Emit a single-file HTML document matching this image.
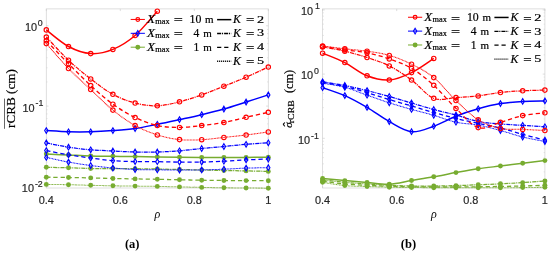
<!DOCTYPE html>
<html><head><meta charset="utf-8"><title>rCRB figure</title>
<style>html,body{margin:0;padding:0;background:#fff;width:550px;height:254px;overflow:hidden}svg{display:block}</style>
</head><body>
<svg width="550" height="254" viewBox="0 0 550 254">
<rect x="46.3" y="8.9" width="222" height="179.1" fill="none" stroke="#d6d6d6" stroke-width="0.8"/>
<rect x="322.6" y="8.9" width="222.3" height="179.1" fill="none" stroke="#d6d6d6" stroke-width="0.8"/>
<path d="M46.3 186.4h2.2M268.3 186.4h-2.2" stroke="#c8c8c8" stroke-width="0.6"/>
<path d="M46.3 106.1h2.2M268.3 106.1h-2.2" stroke="#c8c8c8" stroke-width="0.6"/>
<path d="M46.3 25.8h2.2M268.3 25.8h-2.2" stroke="#c8c8c8" stroke-width="0.6"/>
<path d="M46.3 162.23h1.2M268.3 162.23h-1.2" stroke="#d0d0d0" stroke-width="0.6"/>
<path d="M46.3 148.09h1.2M268.3 148.09h-1.2" stroke="#d0d0d0" stroke-width="0.6"/>
<path d="M46.3 138.05h1.2M268.3 138.05h-1.2" stroke="#d0d0d0" stroke-width="0.6"/>
<path d="M46.3 130.27h1.2M268.3 130.27h-1.2" stroke="#d0d0d0" stroke-width="0.6"/>
<path d="M46.3 123.91h1.2M268.3 123.91h-1.2" stroke="#d0d0d0" stroke-width="0.6"/>
<path d="M46.3 118.54h1.2M268.3 118.54h-1.2" stroke="#d0d0d0" stroke-width="0.6"/>
<path d="M46.3 113.88h1.2M268.3 113.88h-1.2" stroke="#d0d0d0" stroke-width="0.6"/>
<path d="M46.3 109.77h1.2M268.3 109.77h-1.2" stroke="#d0d0d0" stroke-width="0.6"/>
<path d="M46.3 81.93h1.2M268.3 81.93h-1.2" stroke="#d0d0d0" stroke-width="0.6"/>
<path d="M46.3 67.79h1.2M268.3 67.79h-1.2" stroke="#d0d0d0" stroke-width="0.6"/>
<path d="M46.3 57.75h1.2M268.3 57.75h-1.2" stroke="#d0d0d0" stroke-width="0.6"/>
<path d="M46.3 49.97h1.2M268.3 49.97h-1.2" stroke="#d0d0d0" stroke-width="0.6"/>
<path d="M46.3 43.61h1.2M268.3 43.61h-1.2" stroke="#d0d0d0" stroke-width="0.6"/>
<path d="M46.3 38.24h1.2M268.3 38.24h-1.2" stroke="#d0d0d0" stroke-width="0.6"/>
<path d="M46.3 33.58h1.2M268.3 33.58h-1.2" stroke="#d0d0d0" stroke-width="0.6"/>
<path d="M46.3 29.47h1.2M268.3 29.47h-1.2" stroke="#d0d0d0" stroke-width="0.6"/>
<path d="M46.3 188v-2.2M46.3 8.9v2.2" stroke="#c8c8c8" stroke-width="0.6"/>
<path d="M120.3 188v-2.2M120.3 8.9v2.2" stroke="#c8c8c8" stroke-width="0.6"/>
<path d="M194.3 188v-2.2M194.3 8.9v2.2" stroke="#c8c8c8" stroke-width="0.6"/>
<path d="M268.3 188v-2.2M268.3 8.9v2.2" stroke="#c8c8c8" stroke-width="0.6"/>
<path d="M322.6 138.3h2.2M544.9 138.3h-2.2" stroke="#c8c8c8" stroke-width="0.6"/>
<path d="M322.6 74.1h2.2M544.9 74.1h-2.2" stroke="#c8c8c8" stroke-width="0.6"/>
<path d="M322.6 9.9h2.2M544.9 9.9h-2.2" stroke="#c8c8c8" stroke-width="0.6"/>
<path d="M322.6 183.17h1.2M544.9 183.17h-1.2" stroke="#d0d0d0" stroke-width="0.6"/>
<path d="M322.6 171.87h1.2M544.9 171.87h-1.2" stroke="#d0d0d0" stroke-width="0.6"/>
<path d="M322.6 163.85h1.2M544.9 163.85h-1.2" stroke="#d0d0d0" stroke-width="0.6"/>
<path d="M322.6 157.63h1.2M544.9 157.63h-1.2" stroke="#d0d0d0" stroke-width="0.6"/>
<path d="M322.6 152.54h1.2M544.9 152.54h-1.2" stroke="#d0d0d0" stroke-width="0.6"/>
<path d="M322.6 148.24h1.2M544.9 148.24h-1.2" stroke="#d0d0d0" stroke-width="0.6"/>
<path d="M322.6 144.52h1.2M544.9 144.52h-1.2" stroke="#d0d0d0" stroke-width="0.6"/>
<path d="M322.6 141.24h1.2M544.9 141.24h-1.2" stroke="#d0d0d0" stroke-width="0.6"/>
<path d="M322.6 118.97h1.2M544.9 118.97h-1.2" stroke="#d0d0d0" stroke-width="0.6"/>
<path d="M322.6 107.67h1.2M544.9 107.67h-1.2" stroke="#d0d0d0" stroke-width="0.6"/>
<path d="M322.6 99.65h1.2M544.9 99.65h-1.2" stroke="#d0d0d0" stroke-width="0.6"/>
<path d="M322.6 93.43h1.2M544.9 93.43h-1.2" stroke="#d0d0d0" stroke-width="0.6"/>
<path d="M322.6 88.34h1.2M544.9 88.34h-1.2" stroke="#d0d0d0" stroke-width="0.6"/>
<path d="M322.6 84.04h1.2M544.9 84.04h-1.2" stroke="#d0d0d0" stroke-width="0.6"/>
<path d="M322.6 80.32h1.2M544.9 80.32h-1.2" stroke="#d0d0d0" stroke-width="0.6"/>
<path d="M322.6 77.04h1.2M544.9 77.04h-1.2" stroke="#d0d0d0" stroke-width="0.6"/>
<path d="M322.6 54.77h1.2M544.9 54.77h-1.2" stroke="#d0d0d0" stroke-width="0.6"/>
<path d="M322.6 43.47h1.2M544.9 43.47h-1.2" stroke="#d0d0d0" stroke-width="0.6"/>
<path d="M322.6 35.45h1.2M544.9 35.45h-1.2" stroke="#d0d0d0" stroke-width="0.6"/>
<path d="M322.6 29.23h1.2M544.9 29.23h-1.2" stroke="#d0d0d0" stroke-width="0.6"/>
<path d="M322.6 24.14h1.2M544.9 24.14h-1.2" stroke="#d0d0d0" stroke-width="0.6"/>
<path d="M322.6 19.84h1.2M544.9 19.84h-1.2" stroke="#d0d0d0" stroke-width="0.6"/>
<path d="M322.6 16.12h1.2M544.9 16.12h-1.2" stroke="#d0d0d0" stroke-width="0.6"/>
<path d="M322.6 12.84h1.2M544.9 12.84h-1.2" stroke="#d0d0d0" stroke-width="0.6"/>
<path d="M322.6 188v-2.2M322.6 8.9v2.2" stroke="#c8c8c8" stroke-width="0.6"/>
<path d="M396.7 188v-2.2M396.7 8.9v2.2" stroke="#c8c8c8" stroke-width="0.6"/>
<path d="M470.8 188v-2.2M470.8 8.9v2.2" stroke="#c8c8c8" stroke-width="0.6"/>
<path d="M544.9 188v-2.2M544.9 8.9v2.2" stroke="#c8c8c8" stroke-width="0.6"/>
<g>
<path d="M46.3 154C50 154.17 61.1 154.67 68.5 155C75.9 155.33 83.3 155.78 90.7 156C98.1 156.22 105.5 156.2 112.9 156.3C120.3 156.4 127.7 156.48 135.1 156.6C142.5 156.72 149.9 156.88 157.3 157C164.7 157.12 172.1 157.23 179.5 157.3C186.9 157.37 194.3 157.38 201.7 157.4C209.1 157.42 216.5 157.4 223.9 157.4C231.3 157.4 238.7 157.42 246.1 157.4C253.5 157.38 264.6 157.32 268.3 157.3" fill="none" stroke="#77ac30" stroke-width="1.5"/>
<circle cx="46.3" cy="154" r="2.45" fill="#77ac30"/>
<circle cx="68.5" cy="155" r="2.45" fill="#77ac30"/>
<circle cx="90.7" cy="156" r="2.45" fill="#77ac30"/>
<circle cx="112.9" cy="156.3" r="2.45" fill="#77ac30"/>
<circle cx="135.1" cy="156.6" r="2.45" fill="#77ac30"/>
<circle cx="157.3" cy="157" r="2.45" fill="#77ac30"/>
<circle cx="179.5" cy="157.3" r="2.45" fill="#77ac30"/>
<circle cx="201.7" cy="157.4" r="2.45" fill="#77ac30"/>
<circle cx="223.9" cy="157.4" r="2.45" fill="#77ac30"/>
<circle cx="246.1" cy="157.4" r="2.45" fill="#77ac30"/>
<circle cx="268.3" cy="157.3" r="2.45" fill="#77ac30"/>
<path d="M46.3 167.3C50 167.38 61.1 167.6 68.5 167.8C75.9 168 83.3 168.37 90.7 168.5C98.1 168.63 105.5 168.57 112.9 168.6C120.3 168.63 127.7 168.63 135.1 168.7C142.5 168.77 149.9 168.87 157.3 169C164.7 169.13 172.1 169.33 179.5 169.5C186.9 169.67 194.3 169.83 201.7 170C209.1 170.17 216.5 170.35 223.9 170.5C231.3 170.65 238.7 170.75 246.1 170.9C253.5 171.05 264.6 171.32 268.3 171.4" fill="none" stroke="#77ac30" stroke-width="1.25" stroke-dasharray="4.1 0.8 1.1 1.0"/>
<circle cx="46.3" cy="167.3" r="2.45" fill="#77ac30"/>
<circle cx="68.5" cy="167.8" r="2.45" fill="#77ac30"/>
<circle cx="90.7" cy="168.5" r="2.45" fill="#77ac30"/>
<circle cx="112.9" cy="168.6" r="2.45" fill="#77ac30"/>
<circle cx="135.1" cy="168.7" r="2.45" fill="#77ac30"/>
<circle cx="157.3" cy="169" r="2.45" fill="#77ac30"/>
<circle cx="179.5" cy="169.5" r="2.45" fill="#77ac30"/>
<circle cx="201.7" cy="170" r="2.45" fill="#77ac30"/>
<circle cx="223.9" cy="170.5" r="2.45" fill="#77ac30"/>
<circle cx="246.1" cy="170.9" r="2.45" fill="#77ac30"/>
<circle cx="268.3" cy="171.4" r="2.45" fill="#77ac30"/>
<path d="M46.3 177.2C50 177.25 61.1 177.38 68.5 177.5C75.9 177.62 83.3 177.73 90.7 177.9C98.1 178.07 105.5 178.33 112.9 178.5C120.3 178.67 127.7 178.77 135.1 178.9C142.5 179.03 149.9 179.15 157.3 179.3C164.7 179.45 172.1 179.65 179.5 179.8C186.9 179.95 194.3 180.08 201.7 180.2C209.1 180.32 216.5 180.43 223.9 180.5C231.3 180.57 238.7 180.57 246.1 180.6C253.5 180.63 264.6 180.68 268.3 180.7" fill="none" stroke="#77ac30" stroke-width="1.3" stroke-dasharray="4.2 2.9"/>
<circle cx="46.3" cy="177.2" r="2.45" fill="#77ac30"/>
<circle cx="68.5" cy="177.5" r="2.45" fill="#77ac30"/>
<circle cx="90.7" cy="177.9" r="2.45" fill="#77ac30"/>
<circle cx="112.9" cy="178.5" r="2.45" fill="#77ac30"/>
<circle cx="135.1" cy="178.9" r="2.45" fill="#77ac30"/>
<circle cx="157.3" cy="179.3" r="2.45" fill="#77ac30"/>
<circle cx="179.5" cy="179.8" r="2.45" fill="#77ac30"/>
<circle cx="201.7" cy="180.2" r="2.45" fill="#77ac30"/>
<circle cx="223.9" cy="180.5" r="2.45" fill="#77ac30"/>
<circle cx="246.1" cy="180.6" r="2.45" fill="#77ac30"/>
<circle cx="268.3" cy="180.7" r="2.45" fill="#77ac30"/>
<path d="M46.3 184.4C50 184.45 61.1 184.55 68.5 184.7C75.9 184.85 83.3 185.12 90.7 185.3C98.1 185.48 105.5 185.67 112.9 185.8C120.3 185.93 127.7 186 135.1 186.1C142.5 186.2 149.9 186.27 157.3 186.4C164.7 186.53 172.1 186.73 179.5 186.9C186.9 187.07 194.3 187.25 201.7 187.4C209.1 187.55 216.5 187.7 223.9 187.8C231.3 187.9 238.7 187.93 246.1 188C253.5 188.07 264.6 188.17 268.3 188.2" fill="none" stroke="#77ac30" stroke-width="1.05" stroke-dasharray="0.9 0.6"/>
<circle cx="46.3" cy="184.4" r="2.45" fill="#77ac30"/>
<circle cx="68.5" cy="184.7" r="2.45" fill="#77ac30"/>
<circle cx="90.7" cy="185.3" r="2.45" fill="#77ac30"/>
<circle cx="112.9" cy="185.8" r="2.45" fill="#77ac30"/>
<circle cx="135.1" cy="186.1" r="2.45" fill="#77ac30"/>
<circle cx="157.3" cy="186.4" r="2.45" fill="#77ac30"/>
<circle cx="179.5" cy="186.9" r="2.45" fill="#77ac30"/>
<circle cx="201.7" cy="187.4" r="2.45" fill="#77ac30"/>
<circle cx="223.9" cy="187.8" r="2.45" fill="#77ac30"/>
<circle cx="246.1" cy="188" r="2.45" fill="#77ac30"/>
<circle cx="268.3" cy="188.2" r="2.45" fill="#77ac30"/>
<path d="M46.3 130.6C50 130.8 61.1 131.6 68.5 131.8C75.9 132 83.3 132 90.7 131.8C98.1 131.6 105.5 131.15 112.9 130.6C120.3 130.05 127.7 129.55 135.1 128.5C142.5 127.45 149.9 125.78 157.3 124.3C164.7 122.82 172.1 121.2 179.5 119.6C186.9 118 194.3 116.47 201.7 114.7C209.1 112.93 216.5 111.12 223.9 109C231.3 106.88 238.7 104.35 246.1 102C253.5 99.65 264.6 96.08 268.3 94.9" fill="none" stroke="#0000ff" stroke-width="1.5"/>
<path d="M46.3 127.8l1.65 2.8l-1.65 2.8l-1.65 -2.8z" fill="none" stroke="#0000ff" stroke-width="1.1"/>
<path d="M68.5 129l1.65 2.8l-1.65 2.8l-1.65 -2.8z" fill="none" stroke="#0000ff" stroke-width="1.1"/>
<path d="M90.7 129l1.65 2.8l-1.65 2.8l-1.65 -2.8z" fill="none" stroke="#0000ff" stroke-width="1.1"/>
<path d="M112.9 127.8l1.65 2.8l-1.65 2.8l-1.65 -2.8z" fill="none" stroke="#0000ff" stroke-width="1.1"/>
<path d="M135.1 125.7l1.65 2.8l-1.65 2.8l-1.65 -2.8z" fill="none" stroke="#0000ff" stroke-width="1.1"/>
<path d="M157.3 121.5l1.65 2.8l-1.65 2.8l-1.65 -2.8z" fill="none" stroke="#0000ff" stroke-width="1.1"/>
<path d="M179.5 116.8l1.65 2.8l-1.65 2.8l-1.65 -2.8z" fill="none" stroke="#0000ff" stroke-width="1.1"/>
<path d="M201.7 111.9l1.65 2.8l-1.65 2.8l-1.65 -2.8z" fill="none" stroke="#0000ff" stroke-width="1.1"/>
<path d="M223.9 106.2l1.65 2.8l-1.65 2.8l-1.65 -2.8z" fill="none" stroke="#0000ff" stroke-width="1.1"/>
<path d="M246.1 99.2l1.65 2.8l-1.65 2.8l-1.65 -2.8z" fill="none" stroke="#0000ff" stroke-width="1.1"/>
<path d="M268.3 92.1l1.65 2.8l-1.65 2.8l-1.65 -2.8z" fill="none" stroke="#0000ff" stroke-width="1.1"/>
<path d="M46.3 142.9C50 143.62 61.1 146.05 68.5 147.2C75.9 148.35 83.3 149.17 90.7 149.8C98.1 150.43 105.5 150.63 112.9 151C120.3 151.37 127.7 151.83 135.1 152C142.5 152.17 149.9 152.2 157.3 152C164.7 151.8 172.1 151.38 179.5 150.8C186.9 150.22 194.3 149.22 201.7 148.5C209.1 147.78 216.5 147.2 223.9 146.5C231.3 145.8 238.7 144.92 246.1 144.3C253.5 143.68 264.6 143.05 268.3 142.8" fill="none" stroke="#0000ff" stroke-width="1.25" stroke-dasharray="4.1 0.8 1.1 1.0"/>
<path d="M46.3 140.1l1.65 2.8l-1.65 2.8l-1.65 -2.8z" fill="none" stroke="#0000ff" stroke-width="1.1"/>
<path d="M68.5 144.4l1.65 2.8l-1.65 2.8l-1.65 -2.8z" fill="none" stroke="#0000ff" stroke-width="1.1"/>
<path d="M90.7 147l1.65 2.8l-1.65 2.8l-1.65 -2.8z" fill="none" stroke="#0000ff" stroke-width="1.1"/>
<path d="M112.9 148.2l1.65 2.8l-1.65 2.8l-1.65 -2.8z" fill="none" stroke="#0000ff" stroke-width="1.1"/>
<path d="M135.1 149.2l1.65 2.8l-1.65 2.8l-1.65 -2.8z" fill="none" stroke="#0000ff" stroke-width="1.1"/>
<path d="M157.3 149.2l1.65 2.8l-1.65 2.8l-1.65 -2.8z" fill="none" stroke="#0000ff" stroke-width="1.1"/>
<path d="M179.5 148l1.65 2.8l-1.65 2.8l-1.65 -2.8z" fill="none" stroke="#0000ff" stroke-width="1.1"/>
<path d="M201.7 145.7l1.65 2.8l-1.65 2.8l-1.65 -2.8z" fill="none" stroke="#0000ff" stroke-width="1.1"/>
<path d="M223.9 143.7l1.65 2.8l-1.65 2.8l-1.65 -2.8z" fill="none" stroke="#0000ff" stroke-width="1.1"/>
<path d="M246.1 141.5l1.65 2.8l-1.65 2.8l-1.65 -2.8z" fill="none" stroke="#0000ff" stroke-width="1.1"/>
<path d="M268.3 140l1.65 2.8l-1.65 2.8l-1.65 -2.8z" fill="none" stroke="#0000ff" stroke-width="1.1"/>
<path d="M46.3 150.6C50 151.3 61.1 153.57 68.5 154.8C75.9 156.03 83.3 157.02 90.7 158C98.1 158.98 105.5 160.1 112.9 160.7C120.3 161.3 127.7 161.43 135.1 161.6C142.5 161.77 149.9 161.62 157.3 161.7C164.7 161.78 172.1 162.03 179.5 162.1C186.9 162.17 194.3 162.25 201.7 162.1C209.1 161.95 216.5 161.57 223.9 161.2C231.3 160.83 238.7 160.27 246.1 159.9C253.5 159.53 264.6 159.15 268.3 159" fill="none" stroke="#0000ff" stroke-width="1.3" stroke-dasharray="4.2 2.9"/>
<path d="M46.3 147.8l1.65 2.8l-1.65 2.8l-1.65 -2.8z" fill="none" stroke="#0000ff" stroke-width="1.1"/>
<path d="M68.5 152l1.65 2.8l-1.65 2.8l-1.65 -2.8z" fill="none" stroke="#0000ff" stroke-width="1.1"/>
<path d="M90.7 155.2l1.65 2.8l-1.65 2.8l-1.65 -2.8z" fill="none" stroke="#0000ff" stroke-width="1.1"/>
<path d="M112.9 157.9l1.65 2.8l-1.65 2.8l-1.65 -2.8z" fill="none" stroke="#0000ff" stroke-width="1.1"/>
<path d="M135.1 158.8l1.65 2.8l-1.65 2.8l-1.65 -2.8z" fill="none" stroke="#0000ff" stroke-width="1.1"/>
<path d="M157.3 158.9l1.65 2.8l-1.65 2.8l-1.65 -2.8z" fill="none" stroke="#0000ff" stroke-width="1.1"/>
<path d="M179.5 159.3l1.65 2.8l-1.65 2.8l-1.65 -2.8z" fill="none" stroke="#0000ff" stroke-width="1.1"/>
<path d="M201.7 159.3l1.65 2.8l-1.65 2.8l-1.65 -2.8z" fill="none" stroke="#0000ff" stroke-width="1.1"/>
<path d="M223.9 158.4l1.65 2.8l-1.65 2.8l-1.65 -2.8z" fill="none" stroke="#0000ff" stroke-width="1.1"/>
<path d="M246.1 157.1l1.65 2.8l-1.65 2.8l-1.65 -2.8z" fill="none" stroke="#0000ff" stroke-width="1.1"/>
<path d="M268.3 156.2l1.65 2.8l-1.65 2.8l-1.65 -2.8z" fill="none" stroke="#0000ff" stroke-width="1.1"/>
<path d="M46.3 157.4C50 158.18 61.1 160.75 68.5 162.1C75.9 163.45 83.3 164.52 90.7 165.5C98.1 166.48 105.5 167.33 112.9 168C120.3 168.67 127.7 169.2 135.1 169.5C142.5 169.8 149.9 169.72 157.3 169.8C164.7 169.88 172.1 169.98 179.5 170C186.9 170.02 194.3 170.03 201.7 169.9C209.1 169.77 216.5 169.5 223.9 169.2C231.3 168.9 238.7 168.35 246.1 168.1C253.5 167.85 264.6 167.77 268.3 167.7" fill="none" stroke="#0000ff" stroke-width="1.05" stroke-dasharray="0.9 0.6"/>
<path d="M46.3 154.6l1.65 2.8l-1.65 2.8l-1.65 -2.8z" fill="none" stroke="#0000ff" stroke-width="1.1"/>
<path d="M68.5 159.3l1.65 2.8l-1.65 2.8l-1.65 -2.8z" fill="none" stroke="#0000ff" stroke-width="1.1"/>
<path d="M90.7 162.7l1.65 2.8l-1.65 2.8l-1.65 -2.8z" fill="none" stroke="#0000ff" stroke-width="1.1"/>
<path d="M112.9 165.2l1.65 2.8l-1.65 2.8l-1.65 -2.8z" fill="none" stroke="#0000ff" stroke-width="1.1"/>
<path d="M135.1 166.7l1.65 2.8l-1.65 2.8l-1.65 -2.8z" fill="none" stroke="#0000ff" stroke-width="1.1"/>
<path d="M157.3 167l1.65 2.8l-1.65 2.8l-1.65 -2.8z" fill="none" stroke="#0000ff" stroke-width="1.1"/>
<path d="M179.5 167.2l1.65 2.8l-1.65 2.8l-1.65 -2.8z" fill="none" stroke="#0000ff" stroke-width="1.1"/>
<path d="M201.7 167.1l1.65 2.8l-1.65 2.8l-1.65 -2.8z" fill="none" stroke="#0000ff" stroke-width="1.1"/>
<path d="M223.9 166.4l1.65 2.8l-1.65 2.8l-1.65 -2.8z" fill="none" stroke="#0000ff" stroke-width="1.1"/>
<path d="M246.1 165.3l1.65 2.8l-1.65 2.8l-1.65 -2.8z" fill="none" stroke="#0000ff" stroke-width="1.1"/>
<path d="M268.3 164.9l1.65 2.8l-1.65 2.8l-1.65 -2.8z" fill="none" stroke="#0000ff" stroke-width="1.1"/>
<path d="M46.3 29.9C50 32.67 61.1 42.55 68.5 46.5C75.9 50.45 83.3 53.12 90.7 53.6C98.1 54.08 105.5 52.42 112.9 49.4C120.3 46.38 127.7 41.87 135.1 35.5C142.5 29.13 153.6 15.25 157.3 11.2" fill="none" stroke="#ff0000" stroke-width="1.5"/>
<circle cx="46.3" cy="29.9" r="2.2" fill="none" stroke="#ff0000" stroke-width="1.15"/>
<circle cx="68.5" cy="46.5" r="2.2" fill="none" stroke="#ff0000" stroke-width="1.15"/>
<circle cx="90.7" cy="53.6" r="2.2" fill="none" stroke="#ff0000" stroke-width="1.15"/>
<circle cx="112.9" cy="49.4" r="2.2" fill="none" stroke="#ff0000" stroke-width="1.15"/>
<circle cx="135.1" cy="35.5" r="2.2" fill="none" stroke="#ff0000" stroke-width="1.15"/>
<circle cx="157.3" cy="11.2" r="2.2" fill="none" stroke="#ff0000" stroke-width="1.15"/>
<path d="M46.3 37C50 40.87 61.1 53.22 68.5 60.2C75.9 67.18 83.3 73.22 90.7 78.9C98.1 84.58 105.5 90.28 112.9 94.3C120.3 98.32 127.7 101.08 135.1 103C142.5 104.92 149.9 106 157.3 105.8C164.7 105.6 172.1 103.62 179.5 101.8C186.9 99.98 194.3 97.5 201.7 94.9C209.1 92.3 216.5 89.15 223.9 86.2C231.3 83.25 238.7 80.4 246.1 77.2C253.5 74 264.6 68.7 268.3 67" fill="none" stroke="#ff0000" stroke-width="1.25" stroke-dasharray="4.1 0.8 1.1 1.0"/>
<circle cx="46.3" cy="37" r="2.2" fill="none" stroke="#ff0000" stroke-width="1.15"/>
<circle cx="68.5" cy="60.2" r="2.2" fill="none" stroke="#ff0000" stroke-width="1.15"/>
<circle cx="90.7" cy="78.9" r="2.2" fill="none" stroke="#ff0000" stroke-width="1.15"/>
<circle cx="112.9" cy="94.3" r="2.2" fill="none" stroke="#ff0000" stroke-width="1.15"/>
<circle cx="135.1" cy="103" r="2.2" fill="none" stroke="#ff0000" stroke-width="1.15"/>
<circle cx="157.3" cy="105.8" r="2.2" fill="none" stroke="#ff0000" stroke-width="1.15"/>
<circle cx="179.5" cy="101.8" r="2.2" fill="none" stroke="#ff0000" stroke-width="1.15"/>
<circle cx="201.7" cy="94.9" r="2.2" fill="none" stroke="#ff0000" stroke-width="1.15"/>
<circle cx="223.9" cy="86.2" r="2.2" fill="none" stroke="#ff0000" stroke-width="1.15"/>
<circle cx="246.1" cy="77.2" r="2.2" fill="none" stroke="#ff0000" stroke-width="1.15"/>
<circle cx="268.3" cy="67" r="2.2" fill="none" stroke="#ff0000" stroke-width="1.15"/>
<path d="M46.3 40.8C50 44.62 61.1 56.25 68.5 63.7C75.9 71.15 83.3 78.75 90.7 85.5C98.1 92.25 105.5 98.87 112.9 104.2C120.3 109.53 127.7 113.95 135.1 117.5C142.5 121.05 149.9 123.85 157.3 125.5C164.7 127.15 172.1 127.4 179.5 127.4C186.9 127.4 194.3 126.32 201.7 125.5C209.1 124.68 216.5 123.87 223.9 122.5C231.3 121.13 238.7 119 246.1 117.3C253.5 115.6 264.6 113.13 268.3 112.3" fill="none" stroke="#ff0000" stroke-width="1.3" stroke-dasharray="4.2 2.9"/>
<circle cx="46.3" cy="40.8" r="2.2" fill="none" stroke="#ff0000" stroke-width="1.15"/>
<circle cx="68.5" cy="63.7" r="2.2" fill="none" stroke="#ff0000" stroke-width="1.15"/>
<circle cx="90.7" cy="85.5" r="2.2" fill="none" stroke="#ff0000" stroke-width="1.15"/>
<circle cx="112.9" cy="104.2" r="2.2" fill="none" stroke="#ff0000" stroke-width="1.15"/>
<circle cx="135.1" cy="117.5" r="2.2" fill="none" stroke="#ff0000" stroke-width="1.15"/>
<circle cx="157.3" cy="125.5" r="2.2" fill="none" stroke="#ff0000" stroke-width="1.15"/>
<circle cx="179.5" cy="127.4" r="2.2" fill="none" stroke="#ff0000" stroke-width="1.15"/>
<circle cx="201.7" cy="125.5" r="2.2" fill="none" stroke="#ff0000" stroke-width="1.15"/>
<circle cx="223.9" cy="122.5" r="2.2" fill="none" stroke="#ff0000" stroke-width="1.15"/>
<circle cx="246.1" cy="117.3" r="2.2" fill="none" stroke="#ff0000" stroke-width="1.15"/>
<circle cx="268.3" cy="112.3" r="2.2" fill="none" stroke="#ff0000" stroke-width="1.15"/>
<path d="M46.3 43.6C50 47.75 61.1 60.85 68.5 68.5C75.9 76.15 83.3 82.57 90.7 89.5C98.1 96.43 105.5 104.1 112.9 110.1C120.3 116.1 127.7 121.37 135.1 125.5C142.5 129.63 149.9 132.55 157.3 134.9C164.7 137.25 172.1 138.8 179.5 139.6C186.9 140.4 194.3 140.07 201.7 139.7C209.1 139.33 216.5 138.18 223.9 137.4C231.3 136.62 238.7 135.92 246.1 135C253.5 134.08 264.6 132.42 268.3 131.9" fill="none" stroke="#ff0000" stroke-width="1.05" stroke-dasharray="0.9 0.6"/>
<circle cx="46.3" cy="43.6" r="2.2" fill="none" stroke="#ff0000" stroke-width="1.15"/>
<circle cx="68.5" cy="68.5" r="2.2" fill="none" stroke="#ff0000" stroke-width="1.15"/>
<circle cx="90.7" cy="89.5" r="2.2" fill="none" stroke="#ff0000" stroke-width="1.15"/>
<circle cx="112.9" cy="110.1" r="2.2" fill="none" stroke="#ff0000" stroke-width="1.15"/>
<circle cx="135.1" cy="125.5" r="2.2" fill="none" stroke="#ff0000" stroke-width="1.15"/>
<circle cx="157.3" cy="134.9" r="2.2" fill="none" stroke="#ff0000" stroke-width="1.15"/>
<circle cx="179.5" cy="139.6" r="2.2" fill="none" stroke="#ff0000" stroke-width="1.15"/>
<circle cx="201.7" cy="139.7" r="2.2" fill="none" stroke="#ff0000" stroke-width="1.15"/>
<circle cx="223.9" cy="137.4" r="2.2" fill="none" stroke="#ff0000" stroke-width="1.15"/>
<circle cx="246.1" cy="135" r="2.2" fill="none" stroke="#ff0000" stroke-width="1.15"/>
<circle cx="268.3" cy="131.9" r="2.2" fill="none" stroke="#ff0000" stroke-width="1.15"/>
</g>
<g>
<path d="M322.6 178.5C326.31 178.85 337.42 179.93 344.83 180.6C352.24 181.27 359.65 181.9 367.06 182.5C374.47 183.1 381.88 184.53 389.29 184.2C396.7 183.87 404.11 181.73 411.52 180.5C418.93 179.27 426.34 178.12 433.75 176.8C441.16 175.48 448.57 173.93 455.98 172.6C463.39 171.27 470.8 169.9 478.21 168.8C485.62 167.7 493.03 166.93 500.44 166C507.85 165.07 515.26 164.1 522.67 163.2C530.08 162.3 541.19 161.03 544.9 160.6" fill="none" stroke="#77ac30" stroke-width="1.5"/>
<circle cx="322.6" cy="178.5" r="2.45" fill="#77ac30"/>
<circle cx="344.83" cy="180.6" r="2.45" fill="#77ac30"/>
<circle cx="367.06" cy="182.5" r="2.45" fill="#77ac30"/>
<circle cx="389.29" cy="184.2" r="2.45" fill="#77ac30"/>
<circle cx="411.52" cy="180.5" r="2.45" fill="#77ac30"/>
<circle cx="433.75" cy="176.8" r="2.45" fill="#77ac30"/>
<circle cx="455.98" cy="172.6" r="2.45" fill="#77ac30"/>
<circle cx="478.21" cy="168.8" r="2.45" fill="#77ac30"/>
<circle cx="500.44" cy="166" r="2.45" fill="#77ac30"/>
<circle cx="522.67" cy="163.2" r="2.45" fill="#77ac30"/>
<circle cx="544.9" cy="160.6" r="2.45" fill="#77ac30"/>
<path d="M322.6 180C326.31 180.38 337.42 181.63 344.83 182.3C352.24 182.97 359.65 183.5 367.06 184C374.47 184.5 381.88 184.97 389.29 185.3C396.7 185.63 404.11 185.88 411.52 186C418.93 186.12 426.34 186.07 433.75 186C441.16 185.93 448.57 185.8 455.98 185.6C463.39 185.4 470.8 185.1 478.21 184.8C485.62 184.5 493.03 184.17 500.44 183.8C507.85 183.43 515.26 183.07 522.67 182.6C530.08 182.13 541.19 181.27 544.9 181" fill="none" stroke="#77ac30" stroke-width="1.25" stroke-dasharray="4.1 0.8 1.1 1.0"/>
<circle cx="322.6" cy="180" r="2.45" fill="#77ac30"/>
<circle cx="344.83" cy="182.3" r="2.45" fill="#77ac30"/>
<circle cx="367.06" cy="184" r="2.45" fill="#77ac30"/>
<circle cx="389.29" cy="185.3" r="2.45" fill="#77ac30"/>
<circle cx="411.52" cy="186" r="2.45" fill="#77ac30"/>
<circle cx="433.75" cy="186" r="2.45" fill="#77ac30"/>
<circle cx="455.98" cy="185.6" r="2.45" fill="#77ac30"/>
<circle cx="478.21" cy="184.8" r="2.45" fill="#77ac30"/>
<circle cx="500.44" cy="183.8" r="2.45" fill="#77ac30"/>
<circle cx="522.67" cy="182.6" r="2.45" fill="#77ac30"/>
<circle cx="544.9" cy="181" r="2.45" fill="#77ac30"/>
<path d="M322.6 181.2C326.31 181.67 337.42 183.32 344.83 184C352.24 184.68 359.65 184.92 367.06 185.3C374.47 185.68 381.88 186.05 389.29 186.3C396.7 186.55 404.11 186.68 411.52 186.8C418.93 186.92 426.34 186.97 433.75 187C441.16 187.03 448.57 187.03 455.98 187C463.39 186.97 470.8 186.9 478.21 186.8C485.62 186.7 493.03 186.53 500.44 186.4C507.85 186.27 515.26 186.18 522.67 186C530.08 185.82 541.19 185.42 544.9 185.3" fill="none" stroke="#77ac30" stroke-width="1.3" stroke-dasharray="4.2 2.9"/>
<circle cx="322.6" cy="181.2" r="2.45" fill="#77ac30"/>
<circle cx="344.83" cy="184" r="2.45" fill="#77ac30"/>
<circle cx="367.06" cy="185.3" r="2.45" fill="#77ac30"/>
<circle cx="389.29" cy="186.3" r="2.45" fill="#77ac30"/>
<circle cx="411.52" cy="186.8" r="2.45" fill="#77ac30"/>
<circle cx="433.75" cy="187" r="2.45" fill="#77ac30"/>
<circle cx="455.98" cy="187" r="2.45" fill="#77ac30"/>
<circle cx="478.21" cy="186.8" r="2.45" fill="#77ac30"/>
<circle cx="500.44" cy="186.4" r="2.45" fill="#77ac30"/>
<circle cx="522.67" cy="186" r="2.45" fill="#77ac30"/>
<circle cx="544.9" cy="185.3" r="2.45" fill="#77ac30"/>
<path d="M322.6 182.3C326.31 182.85 337.42 184.9 344.83 185.6C352.24 186.3 359.65 186.23 367.06 186.5C374.47 186.77 381.88 187.03 389.29 187.2C396.7 187.37 404.11 187.42 411.52 187.5C418.93 187.58 426.34 187.65 433.75 187.7C441.16 187.75 448.57 187.78 455.98 187.8C463.39 187.82 470.8 187.8 478.21 187.8C485.62 187.8 493.03 187.83 500.44 187.8C507.85 187.77 515.26 187.68 522.67 187.6C530.08 187.52 541.19 187.35 544.9 187.3" fill="none" stroke="#77ac30" stroke-width="1.05" stroke-dasharray="0.9 0.6"/>
<circle cx="322.6" cy="182.3" r="2.45" fill="#77ac30"/>
<circle cx="344.83" cy="185.6" r="2.45" fill="#77ac30"/>
<circle cx="367.06" cy="186.5" r="2.45" fill="#77ac30"/>
<circle cx="389.29" cy="187.2" r="2.45" fill="#77ac30"/>
<circle cx="411.52" cy="187.5" r="2.45" fill="#77ac30"/>
<circle cx="433.75" cy="187.7" r="2.45" fill="#77ac30"/>
<circle cx="455.98" cy="187.8" r="2.45" fill="#77ac30"/>
<circle cx="478.21" cy="187.8" r="2.45" fill="#77ac30"/>
<circle cx="500.44" cy="187.8" r="2.45" fill="#77ac30"/>
<circle cx="522.67" cy="187.6" r="2.45" fill="#77ac30"/>
<circle cx="544.9" cy="187.3" r="2.45" fill="#77ac30"/>
<path d="M322.6 87.7C326.31 89.02 337.42 92.32 344.83 95.6C352.24 98.88 359.65 103.07 367.06 107.4C374.47 111.73 381.88 117.55 389.29 121.6C396.7 125.65 404.11 130.93 411.52 131.7C418.93 132.47 426.34 128.78 433.75 126.2C441.16 123.62 448.57 119.1 455.98 116.2C463.39 113.3 470.8 110.9 478.21 108.8C485.62 106.7 493.03 104.83 500.44 103.6C507.85 102.37 515.26 101.85 522.67 101.4C530.08 100.95 541.19 100.98 544.9 100.9" fill="none" stroke="#0000ff" stroke-width="1.5"/>
<path d="M322.6 84.9l1.65 2.8l-1.65 2.8l-1.65 -2.8z" fill="none" stroke="#0000ff" stroke-width="1.1"/>
<path d="M344.83 92.8l1.65 2.8l-1.65 2.8l-1.65 -2.8z" fill="none" stroke="#0000ff" stroke-width="1.1"/>
<path d="M367.06 104.6l1.65 2.8l-1.65 2.8l-1.65 -2.8z" fill="none" stroke="#0000ff" stroke-width="1.1"/>
<path d="M389.29 118.8l1.65 2.8l-1.65 2.8l-1.65 -2.8z" fill="none" stroke="#0000ff" stroke-width="1.1"/>
<path d="M411.52 128.9l1.65 2.8l-1.65 2.8l-1.65 -2.8z" fill="none" stroke="#0000ff" stroke-width="1.1"/>
<path d="M433.75 123.4l1.65 2.8l-1.65 2.8l-1.65 -2.8z" fill="none" stroke="#0000ff" stroke-width="1.1"/>
<path d="M455.98 113.4l1.65 2.8l-1.65 2.8l-1.65 -2.8z" fill="none" stroke="#0000ff" stroke-width="1.1"/>
<path d="M478.21 106l1.65 2.8l-1.65 2.8l-1.65 -2.8z" fill="none" stroke="#0000ff" stroke-width="1.1"/>
<path d="M500.44 100.8l1.65 2.8l-1.65 2.8l-1.65 -2.8z" fill="none" stroke="#0000ff" stroke-width="1.1"/>
<path d="M522.67 98.6l1.65 2.8l-1.65 2.8l-1.65 -2.8z" fill="none" stroke="#0000ff" stroke-width="1.1"/>
<path d="M544.9 98.1l1.65 2.8l-1.65 2.8l-1.65 -2.8z" fill="none" stroke="#0000ff" stroke-width="1.1"/>
<path d="M322.6 81.8C326.31 82.42 337.42 84.03 344.83 85.5C352.24 86.97 359.65 88.77 367.06 90.6C374.47 92.43 381.88 94.43 389.29 96.5C396.7 98.57 404.11 100.83 411.52 103C418.93 105.17 426.34 107.48 433.75 109.5C441.16 111.52 448.57 113.1 455.98 115.1C463.39 117.1 470.8 120.02 478.21 121.5C485.62 122.98 493.03 123.37 500.44 124C507.85 124.63 515.26 124.83 522.67 125.3C530.08 125.77 541.19 126.55 544.9 126.8" fill="none" stroke="#0000ff" stroke-width="1.25" stroke-dasharray="4.1 0.8 1.1 1.0"/>
<path d="M322.6 79l1.65 2.8l-1.65 2.8l-1.65 -2.8z" fill="none" stroke="#0000ff" stroke-width="1.1"/>
<path d="M344.83 82.7l1.65 2.8l-1.65 2.8l-1.65 -2.8z" fill="none" stroke="#0000ff" stroke-width="1.1"/>
<path d="M367.06 87.8l1.65 2.8l-1.65 2.8l-1.65 -2.8z" fill="none" stroke="#0000ff" stroke-width="1.1"/>
<path d="M389.29 93.7l1.65 2.8l-1.65 2.8l-1.65 -2.8z" fill="none" stroke="#0000ff" stroke-width="1.1"/>
<path d="M411.52 100.2l1.65 2.8l-1.65 2.8l-1.65 -2.8z" fill="none" stroke="#0000ff" stroke-width="1.1"/>
<path d="M433.75 106.7l1.65 2.8l-1.65 2.8l-1.65 -2.8z" fill="none" stroke="#0000ff" stroke-width="1.1"/>
<path d="M455.98 112.3l1.65 2.8l-1.65 2.8l-1.65 -2.8z" fill="none" stroke="#0000ff" stroke-width="1.1"/>
<path d="M478.21 118.7l1.65 2.8l-1.65 2.8l-1.65 -2.8z" fill="none" stroke="#0000ff" stroke-width="1.1"/>
<path d="M500.44 121.2l1.65 2.8l-1.65 2.8l-1.65 -2.8z" fill="none" stroke="#0000ff" stroke-width="1.1"/>
<path d="M522.67 122.5l1.65 2.8l-1.65 2.8l-1.65 -2.8z" fill="none" stroke="#0000ff" stroke-width="1.1"/>
<path d="M544.9 124l1.65 2.8l-1.65 2.8l-1.65 -2.8z" fill="none" stroke="#0000ff" stroke-width="1.1"/>
<path d="M322.6 82.5C326.31 83.15 337.42 84.72 344.83 86.4C352.24 88.08 359.65 90.42 367.06 92.6C374.47 94.78 381.88 97.27 389.29 99.5C396.7 101.73 404.11 103.83 411.52 106C418.93 108.17 426.34 110.42 433.75 112.5C441.16 114.58 448.57 116.7 455.98 118.5C463.39 120.3 470.8 121.72 478.21 123.3C485.62 124.88 493.03 126.17 500.44 128C507.85 129.83 515.26 132.27 522.67 134.3C530.08 136.33 541.19 139.22 544.9 140.2" fill="none" stroke="#0000ff" stroke-width="1.3" stroke-dasharray="4.2 2.9"/>
<path d="M322.6 79.7l1.65 2.8l-1.65 2.8l-1.65 -2.8z" fill="none" stroke="#0000ff" stroke-width="1.1"/>
<path d="M344.83 83.6l1.65 2.8l-1.65 2.8l-1.65 -2.8z" fill="none" stroke="#0000ff" stroke-width="1.1"/>
<path d="M367.06 89.8l1.65 2.8l-1.65 2.8l-1.65 -2.8z" fill="none" stroke="#0000ff" stroke-width="1.1"/>
<path d="M389.29 96.7l1.65 2.8l-1.65 2.8l-1.65 -2.8z" fill="none" stroke="#0000ff" stroke-width="1.1"/>
<path d="M411.52 103.2l1.65 2.8l-1.65 2.8l-1.65 -2.8z" fill="none" stroke="#0000ff" stroke-width="1.1"/>
<path d="M433.75 109.7l1.65 2.8l-1.65 2.8l-1.65 -2.8z" fill="none" stroke="#0000ff" stroke-width="1.1"/>
<path d="M455.98 115.7l1.65 2.8l-1.65 2.8l-1.65 -2.8z" fill="none" stroke="#0000ff" stroke-width="1.1"/>
<path d="M478.21 120.5l1.65 2.8l-1.65 2.8l-1.65 -2.8z" fill="none" stroke="#0000ff" stroke-width="1.1"/>
<path d="M500.44 125.2l1.65 2.8l-1.65 2.8l-1.65 -2.8z" fill="none" stroke="#0000ff" stroke-width="1.1"/>
<path d="M522.67 131.5l1.65 2.8l-1.65 2.8l-1.65 -2.8z" fill="none" stroke="#0000ff" stroke-width="1.1"/>
<path d="M544.9 137.4l1.65 2.8l-1.65 2.8l-1.65 -2.8z" fill="none" stroke="#0000ff" stroke-width="1.1"/>
<path d="M322.6 83.2C326.31 83.88 337.42 85.3 344.83 87.3C352.24 89.3 359.65 92.62 367.06 95.2C374.47 97.78 381.88 100.43 389.29 102.8C396.7 105.17 404.11 107.32 411.52 109.4C418.93 111.48 426.34 113.17 433.75 115.3C441.16 117.43 448.57 120.57 455.98 122.2C463.39 123.83 470.8 123.72 478.21 125.1C485.62 126.48 493.03 128.52 500.44 130.5C507.85 132.48 515.26 135.17 522.67 137C530.08 138.83 541.19 140.75 544.9 141.5" fill="none" stroke="#0000ff" stroke-width="1.05" stroke-dasharray="0.9 0.6"/>
<path d="M322.6 80.4l1.65 2.8l-1.65 2.8l-1.65 -2.8z" fill="none" stroke="#0000ff" stroke-width="1.1"/>
<path d="M344.83 84.5l1.65 2.8l-1.65 2.8l-1.65 -2.8z" fill="none" stroke="#0000ff" stroke-width="1.1"/>
<path d="M367.06 92.4l1.65 2.8l-1.65 2.8l-1.65 -2.8z" fill="none" stroke="#0000ff" stroke-width="1.1"/>
<path d="M389.29 100l1.65 2.8l-1.65 2.8l-1.65 -2.8z" fill="none" stroke="#0000ff" stroke-width="1.1"/>
<path d="M411.52 106.6l1.65 2.8l-1.65 2.8l-1.65 -2.8z" fill="none" stroke="#0000ff" stroke-width="1.1"/>
<path d="M433.75 112.5l1.65 2.8l-1.65 2.8l-1.65 -2.8z" fill="none" stroke="#0000ff" stroke-width="1.1"/>
<path d="M455.98 119.4l1.65 2.8l-1.65 2.8l-1.65 -2.8z" fill="none" stroke="#0000ff" stroke-width="1.1"/>
<path d="M478.21 122.3l1.65 2.8l-1.65 2.8l-1.65 -2.8z" fill="none" stroke="#0000ff" stroke-width="1.1"/>
<path d="M500.44 127.7l1.65 2.8l-1.65 2.8l-1.65 -2.8z" fill="none" stroke="#0000ff" stroke-width="1.1"/>
<path d="M522.67 134.2l1.65 2.8l-1.65 2.8l-1.65 -2.8z" fill="none" stroke="#0000ff" stroke-width="1.1"/>
<path d="M544.9 138.7l1.65 2.8l-1.65 2.8l-1.65 -2.8z" fill="none" stroke="#0000ff" stroke-width="1.1"/>
<path d="M322.6 53.2C326.31 54.77 337.42 58.83 344.83 62.6C352.24 66.37 359.65 72.9 367.06 75.8C374.47 78.7 381.88 80.53 389.29 80C396.7 79.47 404.11 76.2 411.52 72.6C418.93 69 430.05 60.77 433.75 58.4" fill="none" stroke="#ff0000" stroke-width="1.5"/>
<circle cx="322.6" cy="53.2" r="2.2" fill="none" stroke="#ff0000" stroke-width="1.15"/>
<circle cx="344.83" cy="62.6" r="2.2" fill="none" stroke="#ff0000" stroke-width="1.15"/>
<circle cx="367.06" cy="75.8" r="2.2" fill="none" stroke="#ff0000" stroke-width="1.15"/>
<circle cx="389.29" cy="80" r="2.2" fill="none" stroke="#ff0000" stroke-width="1.15"/>
<circle cx="411.52" cy="72.6" r="2.2" fill="none" stroke="#ff0000" stroke-width="1.15"/>
<circle cx="433.75" cy="58.4" r="2.2" fill="none" stroke="#ff0000" stroke-width="1.15"/>
<path d="M322.6 46.9C326.31 47.62 337.42 49.43 344.83 51.2C352.24 52.97 359.65 55.05 367.06 57.5C374.47 59.95 381.88 62.15 389.29 65.9C396.7 69.65 404.11 74.6 411.52 80C418.93 85.4 426.34 95.37 433.75 98.3C441.16 101.23 448.57 98 455.98 97.6C463.39 97.2 470.8 96.75 478.21 95.9C485.62 95.05 493.03 93.35 500.44 92.5C507.85 91.65 515.26 91.2 522.67 90.8C530.08 90.4 541.19 90.22 544.9 90.1" fill="none" stroke="#ff0000" stroke-width="1.25" stroke-dasharray="4.1 0.8 1.1 1.0"/>
<circle cx="322.6" cy="46.9" r="2.2" fill="none" stroke="#ff0000" stroke-width="1.15"/>
<circle cx="344.83" cy="51.2" r="2.2" fill="none" stroke="#ff0000" stroke-width="1.15"/>
<circle cx="367.06" cy="57.5" r="2.2" fill="none" stroke="#ff0000" stroke-width="1.15"/>
<circle cx="389.29" cy="65.9" r="2.2" fill="none" stroke="#ff0000" stroke-width="1.15"/>
<circle cx="411.52" cy="80" r="2.2" fill="none" stroke="#ff0000" stroke-width="1.15"/>
<circle cx="433.75" cy="98.3" r="2.2" fill="none" stroke="#ff0000" stroke-width="1.15"/>
<circle cx="455.98" cy="97.6" r="2.2" fill="none" stroke="#ff0000" stroke-width="1.15"/>
<circle cx="478.21" cy="95.9" r="2.2" fill="none" stroke="#ff0000" stroke-width="1.15"/>
<circle cx="500.44" cy="92.5" r="2.2" fill="none" stroke="#ff0000" stroke-width="1.15"/>
<circle cx="522.67" cy="90.8" r="2.2" fill="none" stroke="#ff0000" stroke-width="1.15"/>
<circle cx="544.9" cy="90.1" r="2.2" fill="none" stroke="#ff0000" stroke-width="1.15"/>
<path d="M322.6 46.4C326.31 46.98 337.42 48.83 344.83 49.9C352.24 50.97 359.65 51.3 367.06 52.8C374.47 54.3 381.88 56.32 389.29 58.9C396.7 61.48 404.11 63.9 411.52 68.3C418.93 72.7 426.34 78.62 433.75 85.3C441.16 91.98 448.57 101.35 455.98 108.4C463.39 115.45 470.8 125.28 478.21 127.6C485.62 129.92 493.03 124.3 500.44 122.3C507.85 120.3 515.26 117.18 522.67 115.6C530.08 114.02 541.19 113.27 544.9 112.8" fill="none" stroke="#ff0000" stroke-width="1.3" stroke-dasharray="4.2 2.9"/>
<circle cx="322.6" cy="46.4" r="2.2" fill="none" stroke="#ff0000" stroke-width="1.15"/>
<circle cx="344.83" cy="49.9" r="2.2" fill="none" stroke="#ff0000" stroke-width="1.15"/>
<circle cx="367.06" cy="52.8" r="2.2" fill="none" stroke="#ff0000" stroke-width="1.15"/>
<circle cx="389.29" cy="58.9" r="2.2" fill="none" stroke="#ff0000" stroke-width="1.15"/>
<circle cx="411.52" cy="68.3" r="2.2" fill="none" stroke="#ff0000" stroke-width="1.15"/>
<circle cx="433.75" cy="85.3" r="2.2" fill="none" stroke="#ff0000" stroke-width="1.15"/>
<circle cx="455.98" cy="108.4" r="2.2" fill="none" stroke="#ff0000" stroke-width="1.15"/>
<circle cx="478.21" cy="127.6" r="2.2" fill="none" stroke="#ff0000" stroke-width="1.15"/>
<circle cx="500.44" cy="122.3" r="2.2" fill="none" stroke="#ff0000" stroke-width="1.15"/>
<circle cx="522.67" cy="115.6" r="2.2" fill="none" stroke="#ff0000" stroke-width="1.15"/>
<circle cx="544.9" cy="112.8" r="2.2" fill="none" stroke="#ff0000" stroke-width="1.15"/>
<path d="M322.6 45.9C326.31 46.38 337.42 47.92 344.83 48.8C352.24 49.68 359.65 50.1 367.06 51.2C374.47 52.3 381.88 53.23 389.29 55.4C396.7 57.57 404.11 60.5 411.52 64.2C418.93 67.9 426.34 71.55 433.75 77.6C441.16 83.65 448.57 93.47 455.98 100.5C463.39 107.53 470.8 115.15 478.21 119.8C485.62 124.45 493.03 126.8 500.44 128.4C507.85 130 515.26 129.05 522.67 129.4C530.08 129.75 541.19 130.32 544.9 130.5" fill="none" stroke="#ff0000" stroke-width="1.05" stroke-dasharray="0.9 0.6"/>
<circle cx="322.6" cy="45.9" r="2.2" fill="none" stroke="#ff0000" stroke-width="1.15"/>
<circle cx="344.83" cy="48.8" r="2.2" fill="none" stroke="#ff0000" stroke-width="1.15"/>
<circle cx="367.06" cy="51.2" r="2.2" fill="none" stroke="#ff0000" stroke-width="1.15"/>
<circle cx="389.29" cy="55.4" r="2.2" fill="none" stroke="#ff0000" stroke-width="1.15"/>
<circle cx="411.52" cy="64.2" r="2.2" fill="none" stroke="#ff0000" stroke-width="1.15"/>
<circle cx="433.75" cy="77.6" r="2.2" fill="none" stroke="#ff0000" stroke-width="1.15"/>
<circle cx="455.98" cy="100.5" r="2.2" fill="none" stroke="#ff0000" stroke-width="1.15"/>
<circle cx="478.21" cy="119.8" r="2.2" fill="none" stroke="#ff0000" stroke-width="1.15"/>
<circle cx="500.44" cy="128.4" r="2.2" fill="none" stroke="#ff0000" stroke-width="1.15"/>
<circle cx="522.67" cy="129.4" r="2.2" fill="none" stroke="#ff0000" stroke-width="1.15"/>
<circle cx="544.9" cy="130.5" r="2.2" fill="none" stroke="#ff0000" stroke-width="1.15"/>
</g>
<text x="46.3" y="203.8" text-anchor="middle" style='font-family:"Liberation Sans",Arial,sans-serif;font-size:10.9px;fill:#262626;stroke:#262626;stroke-width:0.18px'>0.4</text>
<text x="120.3" y="203.8" text-anchor="middle" style='font-family:"Liberation Sans",Arial,sans-serif;font-size:10.9px;fill:#262626;stroke:#262626;stroke-width:0.18px'>0.6</text>
<text x="194.3" y="203.8" text-anchor="middle" style='font-family:"Liberation Sans",Arial,sans-serif;font-size:10.9px;fill:#262626;stroke:#262626;stroke-width:0.18px'>0.8</text>
<text x="268.3" y="203.8" text-anchor="middle" style='font-family:"Liberation Sans",Arial,sans-serif;font-size:10.9px;fill:#262626;stroke:#262626;stroke-width:0.18px'>1</text>
<text x="322.6" y="203.8" text-anchor="middle" style='font-family:"Liberation Sans",Arial,sans-serif;font-size:10.9px;fill:#262626;stroke:#262626;stroke-width:0.18px'>0.4</text>
<text x="396.7" y="203.8" text-anchor="middle" style='font-family:"Liberation Sans",Arial,sans-serif;font-size:10.9px;fill:#262626;stroke:#262626;stroke-width:0.18px'>0.6</text>
<text x="470.8" y="203.8" text-anchor="middle" style='font-family:"Liberation Sans",Arial,sans-serif;font-size:10.9px;fill:#262626;stroke:#262626;stroke-width:0.18px'>0.8</text>
<text x="544.9" y="203.8" text-anchor="middle" style='font-family:"Liberation Sans",Arial,sans-serif;font-size:10.9px;fill:#262626;stroke:#262626;stroke-width:0.18px'>1</text>
<text x="24.97" y="31.4" style='font-family:"Liberation Sans",Arial,sans-serif;fill:#262626;stroke:#262626;stroke-width:0.18px;font-size:10.9px'>10</text>
<text x="37.66" y="26.2" style='font-family:"Liberation Sans",Arial,sans-serif;fill:#262626;stroke:#262626;stroke-width:0.18px;font-size:8.8px'>0</text>
<text x="22.57" y="111.5" style='font-family:"Liberation Sans",Arial,sans-serif;fill:#262626;stroke:#262626;stroke-width:0.18px;font-size:10.9px'>10</text>
<text x="35.6" y="105.9" style='font-family:"Liberation Sans",Arial,sans-serif;fill:#262626;stroke:#262626;stroke-width:0.18px;font-size:8.8px'>-1</text>
<text x="21.87" y="192" style='font-family:"Liberation Sans",Arial,sans-serif;fill:#262626;stroke:#262626;stroke-width:0.18px;font-size:10.9px'>10</text>
<text x="34.9" y="186.6" style='font-family:"Liberation Sans",Arial,sans-serif;fill:#262626;stroke:#262626;stroke-width:0.18px;font-size:8.8px'>-2</text>
<text x="300.97" y="15.1" style='font-family:"Liberation Sans",Arial,sans-serif;fill:#262626;stroke:#262626;stroke-width:0.18px;font-size:10.9px'>10</text>
<text x="314.9" y="9.2" style='font-family:"Liberation Sans",Arial,sans-serif;fill:#262626;stroke:#262626;stroke-width:0.18px;font-size:8.8px'>1</text>
<text x="300.97" y="79.1" style='font-family:"Liberation Sans",Arial,sans-serif;fill:#262626;stroke:#262626;stroke-width:0.18px;font-size:10.9px'>10</text>
<text x="314.06" y="74" style='font-family:"Liberation Sans",Arial,sans-serif;fill:#262626;stroke:#262626;stroke-width:0.18px;font-size:8.8px'>0</text>
<text x="297.97" y="144.3" style='font-family:"Liberation Sans",Arial,sans-serif;fill:#262626;stroke:#262626;stroke-width:0.18px;font-size:10.9px'>10</text>
<text x="311.1" y="138.9" style='font-family:"Liberation Sans",Arial,sans-serif;fill:#262626;stroke:#262626;stroke-width:0.18px;font-size:8.8px'>-1</text>
<path d="M130.7 19.45h14.2" stroke="#ff0000" stroke-width="1"/>
<circle cx="137.8" cy="19.45" r="1.87" fill="none" stroke="#ff0000" stroke-width="1.15"/>
<text x="146.9" y="23.35" style='font-family:"Liberation Serif","Times New Roman",serif;stroke:#000;stroke-width:0.2px;font-size:12.2px;font-style:italic' textLength="8.0" lengthAdjust="spacingAndGlyphs">X</text>
<text x="155.3" y="24.25" style='font-family:"Liberation Serif","Times New Roman",serif;stroke:#000;stroke-width:0.2px;font-size:7.4px' textLength="14.3" lengthAdjust="spacingAndGlyphs">max</text>
<text x="173.7" y="24.45" style='font-family:"Liberation Serif","Times New Roman",serif;stroke:#000;stroke-width:0.2px;font-size:12.4px' textLength="9.1" lengthAdjust="spacingAndGlyphs">=</text>
<text x="189.6" y="22.95" style='font-family:"Liberation Serif","Times New Roman",serif;stroke:#000;stroke-width:0.2px;font-size:11.8px'>10</text>
<text x="205.1" y="22.95" style='font-family:"Liberation Serif","Times New Roman",serif;stroke:#000;stroke-width:0.2px;font-size:11px'>m</text>
<path d="M130.7 33.32h14.2" stroke="#0000ff" stroke-width="1"/>
<path d="M137.8 30.52l1.65 2.8l-1.65 2.8l-1.65 -2.8z" fill="none" stroke="#0000ff" stroke-width="1.1"/>
<text x="146.9" y="37.22" style='font-family:"Liberation Serif","Times New Roman",serif;stroke:#000;stroke-width:0.2px;font-size:12.2px;font-style:italic' textLength="8.0" lengthAdjust="spacingAndGlyphs">X</text>
<text x="155.3" y="38.12" style='font-family:"Liberation Serif","Times New Roman",serif;stroke:#000;stroke-width:0.2px;font-size:7.4px' textLength="14.3" lengthAdjust="spacingAndGlyphs">max</text>
<text x="173.7" y="38.32" style='font-family:"Liberation Serif","Times New Roman",serif;stroke:#000;stroke-width:0.2px;font-size:12.4px' textLength="9.1" lengthAdjust="spacingAndGlyphs">=</text>
<text x="193.5" y="36.82" style='font-family:"Liberation Serif","Times New Roman",serif;stroke:#000;stroke-width:0.2px;font-size:11.5px'>4</text>
<text x="203.3" y="36.82" style='font-family:"Liberation Serif","Times New Roman",serif;stroke:#000;stroke-width:0.2px;font-size:11px'>m</text>
<path d="M130.7 47.19h14.2" stroke="#77ac30" stroke-width="1"/>
<circle cx="137.8" cy="47.19" r="2.45" fill="#77ac30"/>
<text x="146.9" y="51.09" style='font-family:"Liberation Serif","Times New Roman",serif;stroke:#000;stroke-width:0.2px;font-size:12.2px;font-style:italic' textLength="8.0" lengthAdjust="spacingAndGlyphs">X</text>
<text x="155.3" y="51.99" style='font-family:"Liberation Serif","Times New Roman",serif;stroke:#000;stroke-width:0.2px;font-size:7.4px' textLength="14.3" lengthAdjust="spacingAndGlyphs">max</text>
<text x="173.7" y="52.19" style='font-family:"Liberation Serif","Times New Roman",serif;stroke:#000;stroke-width:0.2px;font-size:12.4px' textLength="9.1" lengthAdjust="spacingAndGlyphs">=</text>
<text x="193.4" y="50.69" style='font-family:"Liberation Serif","Times New Roman",serif;stroke:#000;stroke-width:0.2px;font-size:11.5px'>1</text>
<text x="203.3" y="50.69" style='font-family:"Liberation Serif","Times New Roman",serif;stroke:#000;stroke-width:0.2px;font-size:11px'>m</text>
<path d="M217.1 19.65h14.2" stroke="#000" stroke-width="1.5"/>
<text x="233.1" y="23.15" style='font-family:"Liberation Serif","Times New Roman",serif;stroke:#000;stroke-width:0.2px;font-size:11.8px;font-style:italic'>K</text>
<text x="245.9" y="24.45" style='font-family:"Liberation Serif","Times New Roman",serif;stroke:#000;stroke-width:0.2px;font-size:12.4px' textLength="8.4" lengthAdjust="spacingAndGlyphs">=</text>
<text x="256.9" y="22.55" style='font-family:"Liberation Serif","Times New Roman",serif;stroke:#000;stroke-width:0.2px;font-size:11.2px' textLength="7.1" lengthAdjust="spacingAndGlyphs">2</text>
<path d="M217.1 33.52h14.2" stroke="#000" stroke-width="1.3" stroke-dasharray="4.1 0.8 1.1 1.0"/>
<text x="233.1" y="37.02" style='font-family:"Liberation Serif","Times New Roman",serif;stroke:#000;stroke-width:0.2px;font-size:11.8px;font-style:italic'>K</text>
<text x="245.9" y="38.32" style='font-family:"Liberation Serif","Times New Roman",serif;stroke:#000;stroke-width:0.2px;font-size:12.4px' textLength="8.4" lengthAdjust="spacingAndGlyphs">=</text>
<text x="256.9" y="36.42" style='font-family:"Liberation Serif","Times New Roman",serif;stroke:#000;stroke-width:0.2px;font-size:11.2px' textLength="7.1" lengthAdjust="spacingAndGlyphs">3</text>
<path d="M217.1 47.39h14.2" stroke="#000" stroke-width="1.3" stroke-dasharray="4.2 2.9"/>
<text x="233.1" y="50.89" style='font-family:"Liberation Serif","Times New Roman",serif;stroke:#000;stroke-width:0.2px;font-size:11.8px;font-style:italic'>K</text>
<text x="245.9" y="52.19" style='font-family:"Liberation Serif","Times New Roman",serif;stroke:#000;stroke-width:0.2px;font-size:12.4px' textLength="8.4" lengthAdjust="spacingAndGlyphs">=</text>
<text x="256.9" y="50.29" style='font-family:"Liberation Serif","Times New Roman",serif;stroke:#000;stroke-width:0.2px;font-size:11.2px' textLength="7.1" lengthAdjust="spacingAndGlyphs">4</text>
<path d="M217.1 61.26h14.2" stroke="#000" stroke-width="1.35" stroke-dasharray="1.1 0.9"/>
<text x="233.1" y="64.76" style='font-family:"Liberation Serif","Times New Roman",serif;stroke:#000;stroke-width:0.2px;font-size:11.8px;font-style:italic'>K</text>
<text x="245.9" y="66.06" style='font-family:"Liberation Serif","Times New Roman",serif;stroke:#000;stroke-width:0.2px;font-size:12.4px' textLength="8.4" lengthAdjust="spacingAndGlyphs">=</text>
<text x="256.9" y="64.16" style='font-family:"Liberation Serif","Times New Roman",serif;stroke:#000;stroke-width:0.2px;font-size:11.2px' textLength="7.1" lengthAdjust="spacingAndGlyphs">5</text>
<path d="M408 17.25h14.2" stroke="#ff0000" stroke-width="1"/>
<circle cx="415.1" cy="17.25" r="1.87" fill="none" stroke="#ff0000" stroke-width="1.15"/>
<text x="424.2" y="21.45" style='font-family:"Liberation Serif","Times New Roman",serif;stroke:#000;stroke-width:0.2px;font-size:12.2px;font-style:italic' textLength="8.0" lengthAdjust="spacingAndGlyphs">X</text>
<text x="432.6" y="22.35" style='font-family:"Liberation Serif","Times New Roman",serif;stroke:#000;stroke-width:0.2px;font-size:7.4px' textLength="14.3" lengthAdjust="spacingAndGlyphs">max</text>
<text x="451" y="22.55" style='font-family:"Liberation Serif","Times New Roman",serif;stroke:#000;stroke-width:0.2px;font-size:12.4px' textLength="9.1" lengthAdjust="spacingAndGlyphs">=</text>
<text x="466.9" y="21.05" style='font-family:"Liberation Serif","Times New Roman",serif;stroke:#000;stroke-width:0.2px;font-size:11.8px'>10</text>
<text x="482.4" y="21.05" style='font-family:"Liberation Serif","Times New Roman",serif;stroke:#000;stroke-width:0.2px;font-size:11px'>m</text>
<path d="M408 31.12h14.2" stroke="#0000ff" stroke-width="1"/>
<path d="M415.1 28.32l1.65 2.8l-1.65 2.8l-1.65 -2.8z" fill="none" stroke="#0000ff" stroke-width="1.1"/>
<text x="424.2" y="35.32" style='font-family:"Liberation Serif","Times New Roman",serif;stroke:#000;stroke-width:0.2px;font-size:12.2px;font-style:italic' textLength="8.0" lengthAdjust="spacingAndGlyphs">X</text>
<text x="432.6" y="36.22" style='font-family:"Liberation Serif","Times New Roman",serif;stroke:#000;stroke-width:0.2px;font-size:7.4px' textLength="14.3" lengthAdjust="spacingAndGlyphs">max</text>
<text x="451" y="36.42" style='font-family:"Liberation Serif","Times New Roman",serif;stroke:#000;stroke-width:0.2px;font-size:12.4px' textLength="9.1" lengthAdjust="spacingAndGlyphs">=</text>
<text x="470.8" y="34.92" style='font-family:"Liberation Serif","Times New Roman",serif;stroke:#000;stroke-width:0.2px;font-size:11.5px'>4</text>
<text x="480.6" y="34.92" style='font-family:"Liberation Serif","Times New Roman",serif;stroke:#000;stroke-width:0.2px;font-size:11px'>m</text>
<path d="M408 44.99h14.2" stroke="#77ac30" stroke-width="1"/>
<circle cx="415.1" cy="44.99" r="2.45" fill="#77ac30"/>
<text x="424.2" y="49.19" style='font-family:"Liberation Serif","Times New Roman",serif;stroke:#000;stroke-width:0.2px;font-size:12.2px;font-style:italic' textLength="8.0" lengthAdjust="spacingAndGlyphs">X</text>
<text x="432.6" y="50.09" style='font-family:"Liberation Serif","Times New Roman",serif;stroke:#000;stroke-width:0.2px;font-size:7.4px' textLength="14.3" lengthAdjust="spacingAndGlyphs">max</text>
<text x="451" y="50.29" style='font-family:"Liberation Serif","Times New Roman",serif;stroke:#000;stroke-width:0.2px;font-size:12.4px' textLength="9.1" lengthAdjust="spacingAndGlyphs">=</text>
<text x="470.7" y="48.79" style='font-family:"Liberation Serif","Times New Roman",serif;stroke:#000;stroke-width:0.2px;font-size:11.5px'>1</text>
<text x="480.6" y="48.79" style='font-family:"Liberation Serif","Times New Roman",serif;stroke:#000;stroke-width:0.2px;font-size:11px'>m</text>
<path d="M494.4 17.45h14.2" stroke="#000" stroke-width="1.5"/>
<text x="510.4" y="21.25" style='font-family:"Liberation Serif","Times New Roman",serif;stroke:#000;stroke-width:0.2px;font-size:11.8px;font-style:italic'>K</text>
<text x="523.2" y="22.55" style='font-family:"Liberation Serif","Times New Roman",serif;stroke:#000;stroke-width:0.2px;font-size:12.4px' textLength="8.4" lengthAdjust="spacingAndGlyphs">=</text>
<text x="534.2" y="20.65" style='font-family:"Liberation Serif","Times New Roman",serif;stroke:#000;stroke-width:0.2px;font-size:11.2px' textLength="7.1" lengthAdjust="spacingAndGlyphs">2</text>
<path d="M494.4 31.32h14.2" stroke="#000" stroke-width="1.3" stroke-dasharray="4.1 0.8 1.1 1.0"/>
<text x="510.4" y="35.12" style='font-family:"Liberation Serif","Times New Roman",serif;stroke:#000;stroke-width:0.2px;font-size:11.8px;font-style:italic'>K</text>
<text x="523.2" y="36.42" style='font-family:"Liberation Serif","Times New Roman",serif;stroke:#000;stroke-width:0.2px;font-size:12.4px' textLength="8.4" lengthAdjust="spacingAndGlyphs">=</text>
<text x="534.2" y="34.52" style='font-family:"Liberation Serif","Times New Roman",serif;stroke:#000;stroke-width:0.2px;font-size:11.2px' textLength="7.1" lengthAdjust="spacingAndGlyphs">3</text>
<path d="M494.4 45.19h14.2" stroke="#000" stroke-width="1.3" stroke-dasharray="4.2 2.9"/>
<text x="510.4" y="48.99" style='font-family:"Liberation Serif","Times New Roman",serif;stroke:#000;stroke-width:0.2px;font-size:11.8px;font-style:italic'>K</text>
<text x="523.2" y="50.29" style='font-family:"Liberation Serif","Times New Roman",serif;stroke:#000;stroke-width:0.2px;font-size:12.4px' textLength="8.4" lengthAdjust="spacingAndGlyphs">=</text>
<text x="534.2" y="48.39" style='font-family:"Liberation Serif","Times New Roman",serif;stroke:#000;stroke-width:0.2px;font-size:11.2px' textLength="7.1" lengthAdjust="spacingAndGlyphs">4</text>
<path d="M494.4 59.06h14.2" stroke="#000" stroke-width="1.35" stroke-dasharray="1.1 0.9"/>
<text x="510.4" y="62.86" style='font-family:"Liberation Serif","Times New Roman",serif;stroke:#000;stroke-width:0.2px;font-size:11.8px;font-style:italic'>K</text>
<text x="523.2" y="64.16" style='font-family:"Liberation Serif","Times New Roman",serif;stroke:#000;stroke-width:0.2px;font-size:12.4px' textLength="8.4" lengthAdjust="spacingAndGlyphs">=</text>
<text x="534.2" y="62.26" style='font-family:"Liberation Serif","Times New Roman",serif;stroke:#000;stroke-width:0.2px;font-size:11.2px' textLength="7.1" lengthAdjust="spacingAndGlyphs">5</text>
<text x="157.3" y="217.5" text-anchor="middle" style='font-family:"Liberation Serif","Times New Roman",serif;font-size:12px;font-style:italic'>&#961;</text>
<text x="433.8" y="217.5" text-anchor="middle" style='font-family:"Liberation Serif","Times New Roman",serif;font-size:12px;font-style:italic'>&#961;</text>
<text x="132.2" y="248" text-anchor="middle" style='font-family:"Liberation Serif","Times New Roman",serif;font-size:12.5px;font-weight:bold'>(a)</text>
<text x="408.5" y="248" text-anchor="middle" style='font-family:"Liberation Serif","Times New Roman",serif;font-size:12.5px;font-weight:bold'>(b)</text>
<text transform="translate(15.3 98.5) rotate(-90)" text-anchor="middle" textLength="58.8" lengthAdjust="spacingAndGlyphs" style='font-family:"Liberation Serif","Times New Roman",serif;stroke:#000;stroke-width:0.2px;font-size:12px'>rCRB (cm)</text>
<path d="M4.5 128.8V98.6" stroke="#000" stroke-width="0.6"/>
<text transform="translate(292 127.8) rotate(-90)" style='font-family:"Liberation Serif","Times New Roman",serif;stroke:#000;stroke-width:0.2px;font-size:11px;font-style:italic'>&#963;</text>
<text transform="translate(292 126.5) rotate(-90)" style='font-family:"Liberation Serif","Times New Roman",serif;stroke:#000;stroke-width:0.2px;font-size:13px'>&#710;</text>
<text transform="translate(294.2 123.2) rotate(-90)" textLength="23" lengthAdjust="spacingAndGlyphs" style='font-family:"Liberation Serif","Times New Roman",serif;stroke:#000;stroke-width:0.2px;font-size:9.2px'>rCRB</text>
<text transform="translate(292.6 93.1) rotate(-90)" textLength="23.2" lengthAdjust="spacingAndGlyphs" style='font-family:"Liberation Serif","Times New Roman",serif;stroke:#000;stroke-width:0.2px;font-size:12px'>(cm)</text>
</svg>
</body></html>
